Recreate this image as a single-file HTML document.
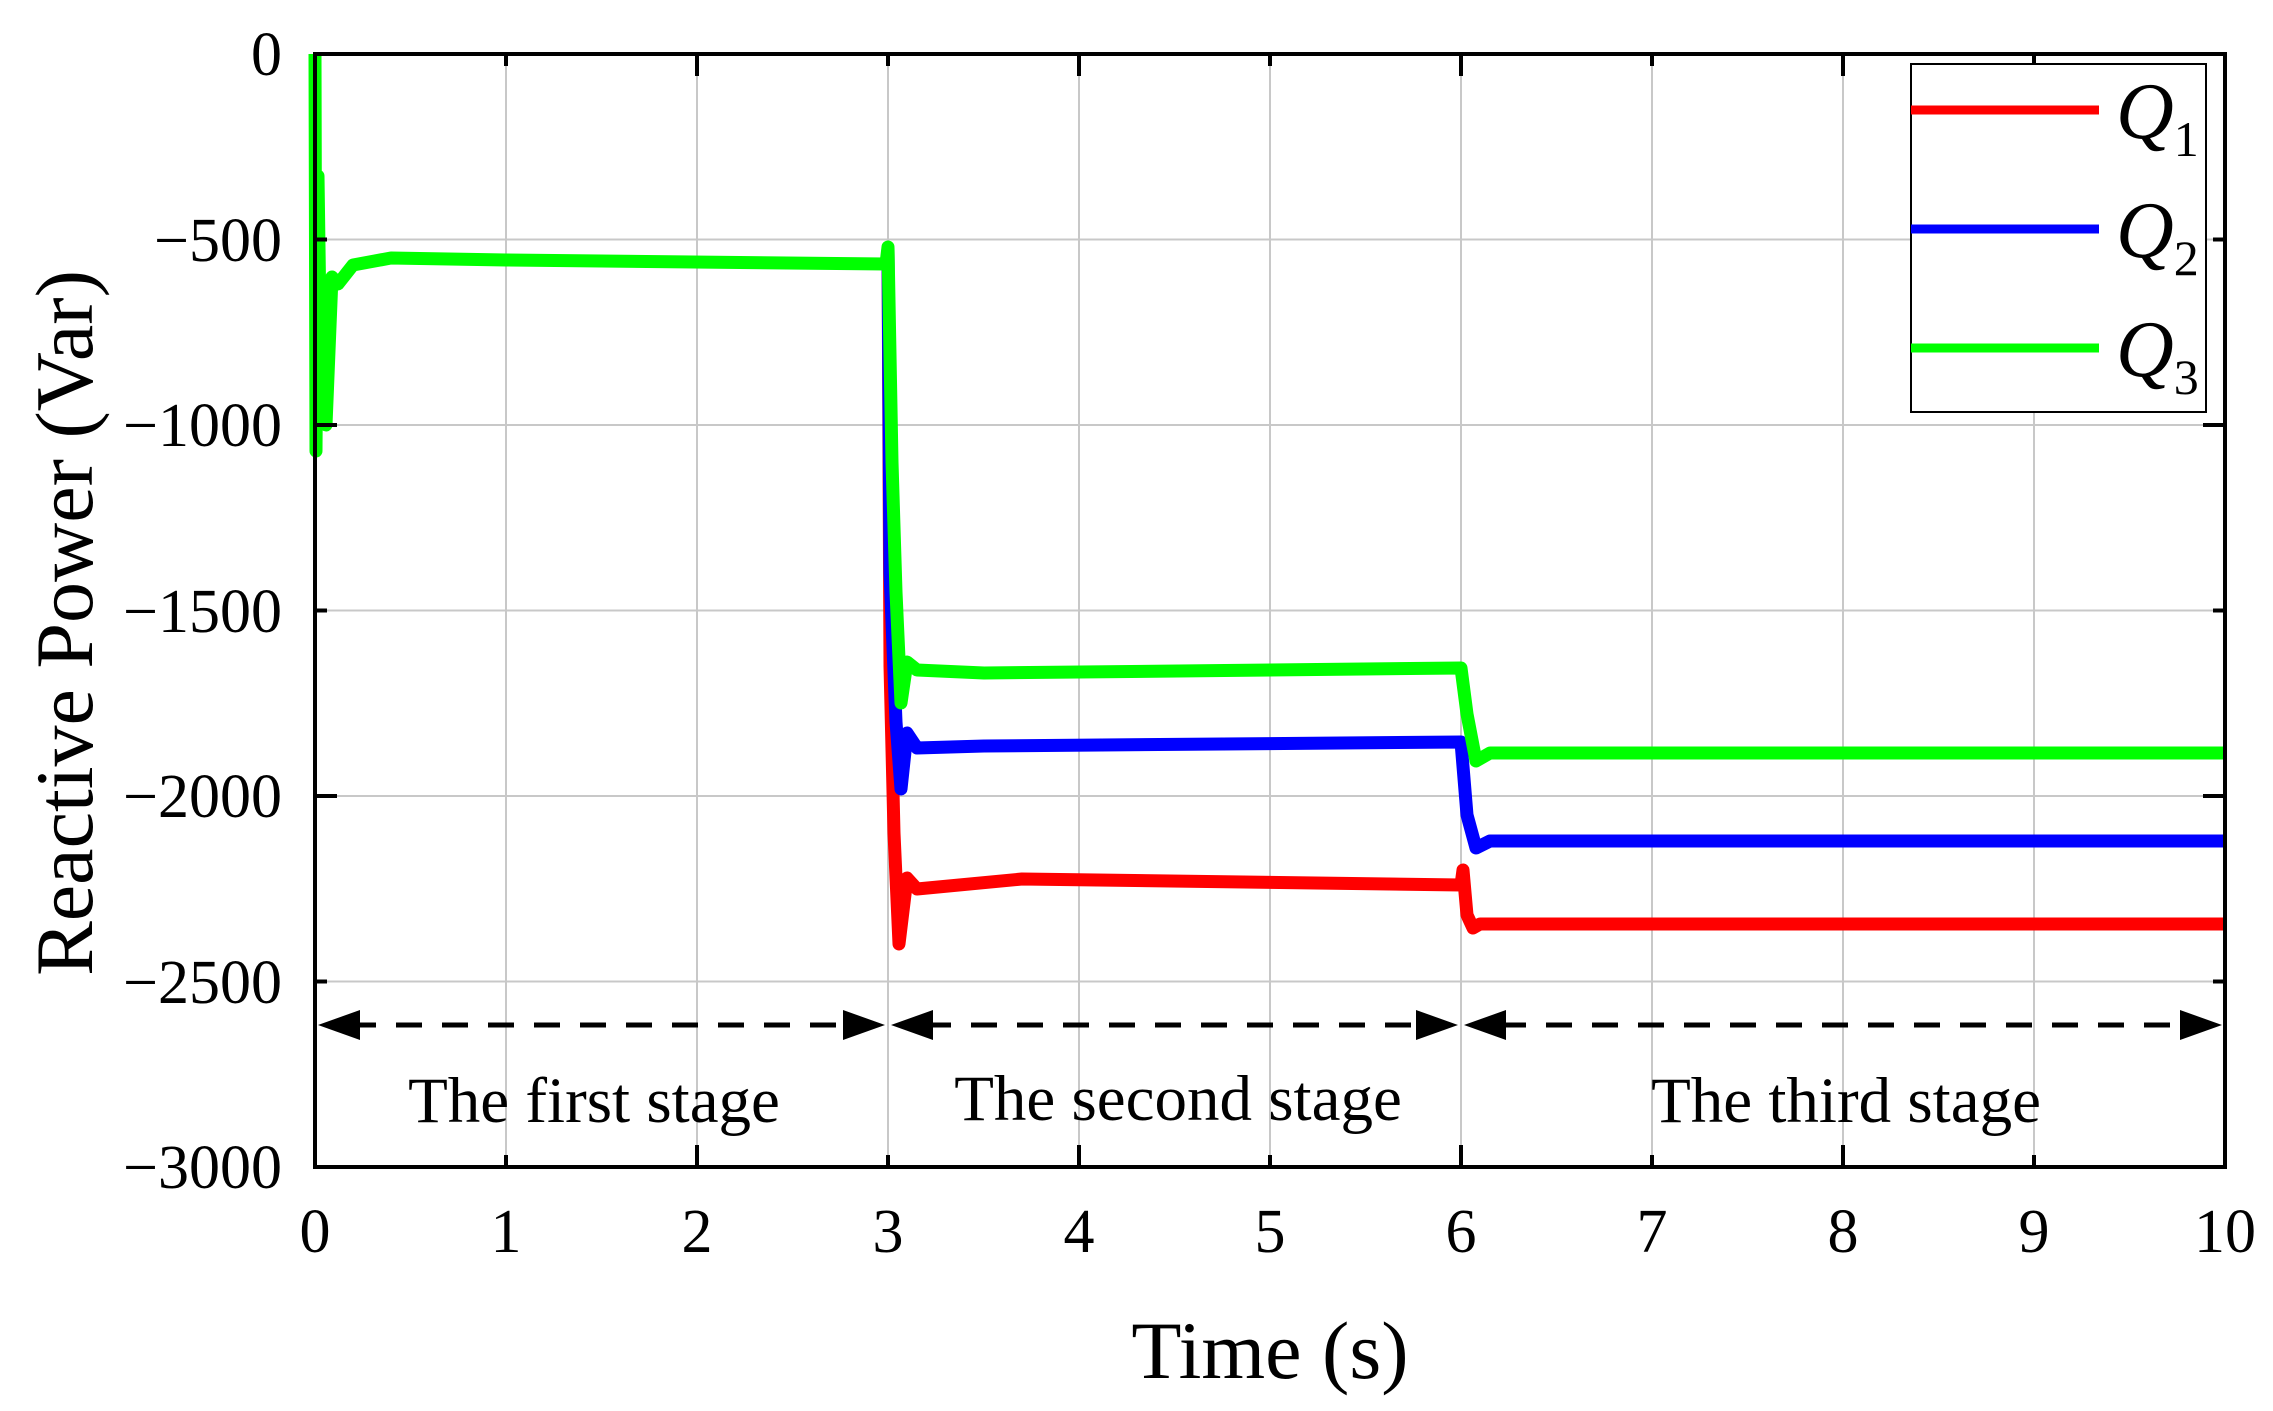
<!DOCTYPE html>
<html><head><style>body{margin:0;background:#fff}svg{display:block}</style></head><body>
<svg width="2273" height="1411" xmlns="http://www.w3.org/2000/svg" font-family="Liberation Serif, serif">
<g stroke="#c8c8c8" stroke-width="2">
<line x1="506" y1="54" x2="506" y2="1167"/><line x1="697" y1="54" x2="697" y2="1167"/><line x1="888" y1="54" x2="888" y2="1167"/><line x1="1079" y1="54" x2="1079" y2="1167"/><line x1="1270" y1="54" x2="1270" y2="1167"/><line x1="1461" y1="54" x2="1461" y2="1167"/><line x1="1652" y1="54" x2="1652" y2="1167"/><line x1="1843" y1="54" x2="1843" y2="1167"/><line x1="2034" y1="54" x2="2034" y2="1167"/>
<line x1="315" y1="239.5" x2="2225" y2="239.5"/><line x1="315" y1="425" x2="2225" y2="425"/><line x1="315" y1="610.5" x2="2225" y2="610.5"/><line x1="315" y1="796" x2="2225" y2="796"/><line x1="315" y1="981.5" x2="2225" y2="981.5"/>
</g>
<g fill="none" stroke-width="13" stroke-linejoin="round">
<polyline stroke="#ff0000" points="888,247 890,666 894,833 899,944 907,878 917,889 1022,879 1461,885 1463,870 1467,915 1473,928 1480,924 2225,924"/>
<polyline stroke="#0000ff" points="888,247 890,573 896,722 901,789 907,733 917,748 984,746 1461,742 1467,815 1476,848 1490,841 2225,841"/>
<polyline stroke="#00ff00" points="315,54 316,451 318,176 321,388 326,425 332,277 338,284 353,265 391,258 506,260 886,264 888,247 892,462 896,592 901,703 907,662 917,670 984,673 1461,668 1467,714 1476,761 1490,753 2225,753"/>
</g>
<rect x="315" y="54" width="1910" height="1113" fill="none" stroke="#000" stroke-width="4"/>
<g stroke="#000" stroke-width="4">
<line x1="506" y1="1167" x2="506" y2="1155"/><line x1="697" y1="1167" x2="697" y2="1145"/><line x1="888" y1="1167" x2="888" y2="1155"/><line x1="1079" y1="1167" x2="1079" y2="1145"/><line x1="1270" y1="1167" x2="1270" y2="1155"/><line x1="1461" y1="1167" x2="1461" y2="1145"/><line x1="1652" y1="1167" x2="1652" y2="1155"/><line x1="1843" y1="1167" x2="1843" y2="1145"/><line x1="2034" y1="1167" x2="2034" y2="1155"/>
<line x1="506" y1="54" x2="506" y2="66"/><line x1="697" y1="54" x2="697" y2="76"/><line x1="888" y1="54" x2="888" y2="66"/><line x1="1079" y1="54" x2="1079" y2="76"/><line x1="1270" y1="54" x2="1270" y2="66"/><line x1="1461" y1="54" x2="1461" y2="76"/><line x1="1652" y1="54" x2="1652" y2="66"/><line x1="1843" y1="54" x2="1843" y2="76"/><line x1="2034" y1="54" x2="2034" y2="66"/>
<line x1="315" y1="239.5" x2="327" y2="239.5"/><line x1="315" y1="425" x2="337" y2="425"/><line x1="315" y1="610.5" x2="327" y2="610.5"/><line x1="315" y1="796" x2="337" y2="796"/><line x1="315" y1="981.5" x2="327" y2="981.5"/>
<line x1="2225" y1="239.5" x2="2213" y2="239.5"/><line x1="2225" y1="425" x2="2203" y2="425"/><line x1="2225" y1="610.5" x2="2213" y2="610.5"/><line x1="2225" y1="796" x2="2203" y2="796"/><line x1="2225" y1="981.5" x2="2213" y2="981.5"/>
</g>
<g stroke="#000" stroke-width="5" stroke-dasharray="26,20">
<line x1="350" y1="1025" x2="850" y2="1025"/><line x1="925" y1="1025" x2="1425" y2="1025"/><line x1="1500" y1="1025" x2="2190" y2="1025"/>
</g>
<g fill="#000">
<polygon points="318,1025 360,1010 360,1040"/><polygon points="885,1025 843,1010 843,1040"/>
<polygon points="891,1025 933,1010 933,1040"/><polygon points="1458,1025 1416,1010 1416,1040"/>
<polygon points="1464,1025 1506,1010 1506,1040"/><polygon points="2222,1025 2180,1010 2180,1040"/>
</g>
<g font-size="65" text-anchor="middle" fill="#000">
<text x="594" y="1122">The first stage</text>
<text x="1178" y="1120">The second stage</text>
<text x="1846" y="1122">The third stage</text>
</g>
<g font-size="62" text-anchor="end" fill="#000">
<text x="282" y="75">0</text><text x="282" y="261">−500</text><text x="282" y="446">−1000</text><text x="282" y="632">−1500</text><text x="282" y="817">−2000</text><text x="282" y="1003">−2500</text><text x="282" y="1188">−3000</text>
</g>
<g font-size="62" text-anchor="middle" fill="#000">
<text x="315" y="1252">0</text><text x="506" y="1252">1</text><text x="697" y="1252">2</text><text x="888" y="1252">3</text><text x="1079" y="1252">4</text><text x="1270" y="1252">5</text><text x="1461" y="1252">6</text><text x="1652" y="1252">7</text><text x="1843" y="1252">8</text><text x="2034" y="1252">9</text><text x="2225" y="1252">10</text>
</g>
<text x="1270" y="1378" font-size="82" text-anchor="middle">Time (s)</text>
<text transform="translate(92,623) rotate(-90)" font-size="82" text-anchor="middle">Reactive Power (Var)</text>
<rect x="1911" y="64" width="295" height="348" fill="#fff" stroke="#000" stroke-width="2"/>
<g stroke-width="9">
<line x1="1911" y1="110" x2="2099" y2="110" stroke="#ff0000"/>
<line x1="1911" y1="229" x2="2099" y2="229" stroke="#0000ff"/>
<line x1="1911" y1="348" x2="2099" y2="348" stroke="#00ff00"/>
</g>
<g font-size="80" font-style="italic" fill="#000">
<text x="2116" y="138">Q<tspan font-style="normal" font-size="50" dy="18">1</tspan></text>
<text x="2116" y="257">Q<tspan font-style="normal" font-size="50" dy="18">2</tspan></text>
<text x="2116" y="376">Q<tspan font-style="normal" font-size="50" dy="18">3</tspan></text>
</g>
</svg>
</body></html>
